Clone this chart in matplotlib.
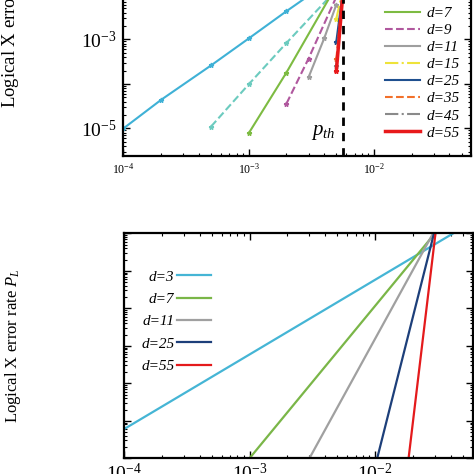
import numpy as np
import matplotlib
matplotlib.use('Agg')
import matplotlib.pyplot as plt
from matplotlib.ticker import LogLocator, FuncFormatter, NullFormatter

plt.rcParams['font.family'] = 'Liberation Serif'
plt.rcParams['mathtext.fontset'] = 'custom'
plt.rcParams['mathtext.rm'] = 'Liberation Serif'
plt.rcParams['mathtext.it'] = 'Liberation Serif:italic'

# top panel: simulated logical error rates
top_d = [3, 5, 7, 9, 11, 15, 25, 35, 45, 55]
top_p = [
    [1e-4, 2e-4, 5e-4, 1e-3, 2e-3, 5e-3],
    [5e-4, 1e-3, 2e-3, 5e-3],
    [1e-3, 2e-3, 5e-3],
    [2e-3, 3e-3, 5e-3],
    [3e-3, 4e-3, 5e-3],
    [5e-3, 5.7e-3],
    [5e-3, 5.7e-3],
    [5e-3, 5.7e-3],
    [5e-3, 5.7e-3],
    [5e-3, 5.7e-3],
]
top_pl = [
    [1e-5, 4.4e-5, 2.6e-4, 1.05e-3, 4.3e-3, 2.6e-2],
    [1.1e-5, 9.8e-5, 8.3e-4, 1.3e-2],
    [7.8e-6, 1.8e-4, 1.6e-2],
    [3.6e-5, 3.7e-4, 9e-3],
    [1.4e-4, 1.05e-3, 6e-3],
    [2.9e-3, 1.5e-2],
    [8.9e-4, 1.5e-2],
    [3.6e-4, 1.5e-2],
    [2.5e-4, 1.5e-2],
    [1.9e-4, 1.5e-2],
]
top_colors = ['#3fb1d6', '#6ccbbf', '#7dbb42', '#b0589e', '#9e9e9e',
              '#eee33a', '#1f4f8f', '#f2702a', '#8a8a8a', '#e8191b']
top_styles = ['-', '--', '-', '--', '-', '-.', '-', '--', '-.', '-']
p_th = 5.7e-3

# bottom panel: fitted scaling lines
bot_d = [3, 7, 11, 25, 55]
bot_p = [[1e-4, 4.2e-2], [1e-3, 3.0e-2], [3.0e-3, 2.9e-2],
         [1.04e-2, 2.95e-2], [1.85e-2, 3.03e-2]]
bot_pl = [[6e-7, 1e-1], [1e-7, 1e-1], [1e-7, 1e-1], [1e-7, 1e-1], [1e-7, 1e-1]]
bot_colors = ['#45b5d5', '#7ab648', '#a0a0a0', '#1d3f7a', '#e41a1c']


def pow10(v, pos):
    return '$10^{%d}$' % round(np.log10(v))


def pow10_odd(v, pos):
    e = round(np.log10(v))
    return '$10^{%d}$' % e if e % 2 else ''


def style_axes(ax):
    ax.set_xscale('log')
    ax.set_yscale('log')
    ax.tick_params(which='both', direction='in', top=True, right=True)
    ax.tick_params(which='major', length=5, width=1)
    ax.tick_params(which='minor', length=2.5, width=0.8)
    ax.xaxis.set_major_locator(LogLocator(base=10, numticks=10))
    ax.yaxis.set_major_locator(LogLocator(base=10, numticks=12))
    ax.xaxis.set_minor_locator(LogLocator(base=10, subs=np.arange(2, 10), numticks=12))
    ax.yaxis.set_minor_locator(LogLocator(base=10, subs=np.arange(2, 10), numticks=12))
    ax.xaxis.set_minor_formatter(NullFormatter())
    ax.yaxis.set_minor_formatter(NullFormatter())
    for s in ax.spines.values():
        s.set_linewidth(1.6)


fig = plt.figure(figsize=(4.74, 4.74), dpi=100)

# ---- top panel
ax1 = fig.add_axes([0.2605, 0.6709, 0.7342, 0.5277])
style_axes(ax1)
for d, p, pl, c, ls in zip(top_d, top_p, top_pl, top_colors, top_styles):
    lw = 2.5 if d == 55 else 1.5
    ax1.plot(p, pl, ls=ls, color=c, lw=lw, marker='*', ms=3.5, label='d=%d' % d)
ax1.axvline(p_th, color='black', ls='--', lw=2, dashes=(3, 2.5))
ax1.text(3.96e-3, 7.9e-6, '$p_{th}$', fontsize=15, ha='center', va='center')
ax1.set_xlim(1e-4, 6e-2)
ax1.set_ylim(2.4e-6, 1)
ax1.xaxis.set_major_formatter(FuncFormatter(pow10))
ax1.yaxis.set_major_formatter(FuncFormatter(pow10_odd))
ax1.tick_params(axis='x', which='major', labelsize=8.5, pad=4)
ax1.tick_params(axis='y', which='major', labelsize=14, pad=5)
ax1.set_ylabel('Logical X error rate $P_L$', fontsize=13.5)
ax1.yaxis.set_label_coords(-0.295, 0.54)
leg1 = ax1.legend(loc='center left', bbox_to_anchor=(0.797, 0.8819),
                  bbox_transform=fig.transFigure, frameon=False, borderpad=0,
                  prop={'style': 'italic', 'size': 11}, handlelength=2.26,
                  handletextpad=0.4, labelspacing=0.22)
for ln in leg1.get_lines():
    ln.set_marker('None')

# ---- bottom panel
ax2 = fig.add_axes([0.2616, 0.0331, 0.7357, 0.4747])
style_axes(ax2)
for d, p, pl, c in zip(bot_d, bot_p, bot_pl, bot_colors):
    ax2.plot(p, pl, color=c, lw=1.6, label='d=%d' % d)
ax2.set_xlim(1e-4, 6e-2)
ax2.set_ylim(1e-7, 1e-1)
ax2.xaxis.set_major_formatter(FuncFormatter(pow10))
ax2.yaxis.set_major_formatter(NullFormatter())
ax2.tick_params(axis='x', which='major', labelsize=14, pad=3)
ax2.set_ylabel('Logical X error rate $P_L$', fontsize=12)
ax2.yaxis.set_label_coords(-0.29, 0.5)
ax2.legend(loc='center right', bbox_to_anchor=(0.462, 0.3217),
           bbox_transform=fig.transFigure, frameon=False, borderpad=0,
           markerfirst=False, prop={'style': 'italic', 'size': 11},
           handlelength=2.26, handletextpad=0.15, labelspacing=0.57)

fig.savefig('out.png', dpi=100)
